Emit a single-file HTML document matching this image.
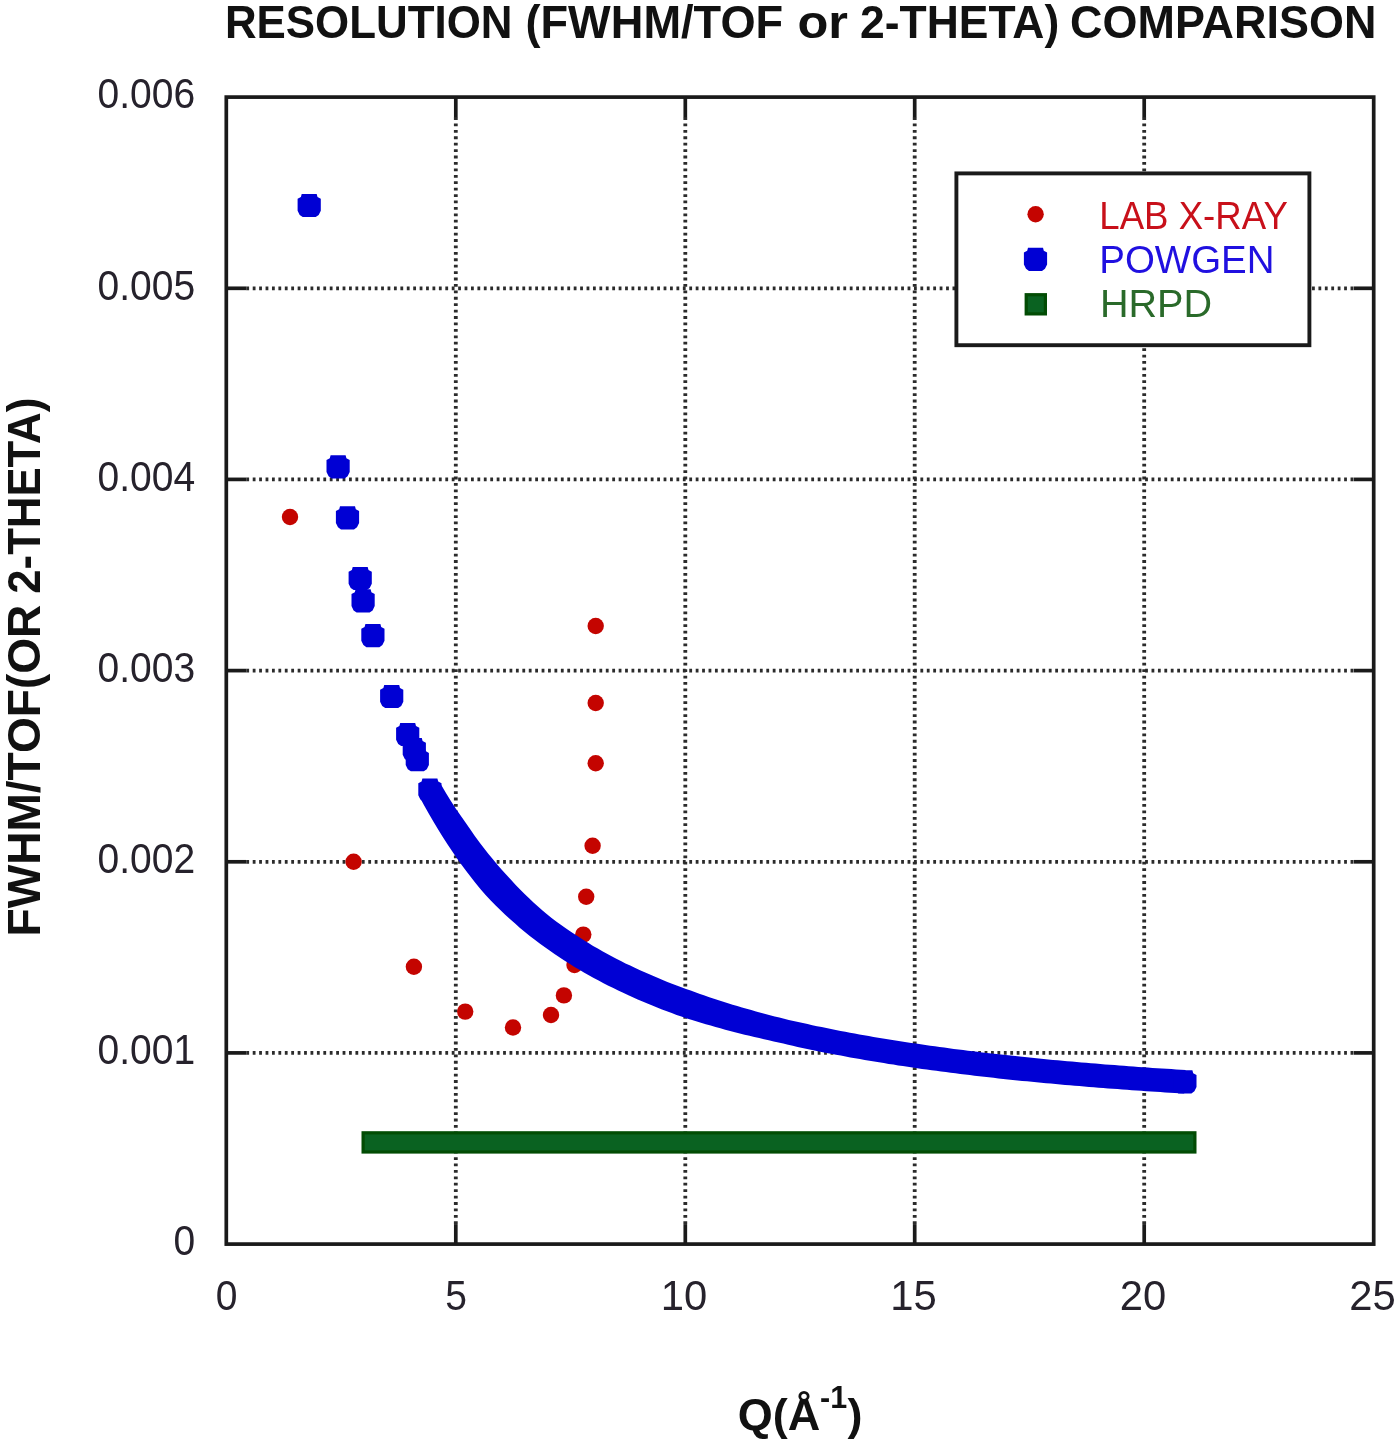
<!DOCTYPE html>
<html><head><meta charset="utf-8"><title>Resolution comparison</title>
<style>
html,body{margin:0;padding:0;background:#fff}
svg{display:block}
text{font-family:"Liberation Sans",sans-serif}
.b{font-weight:bold;fill:#111}
.t{fill:#26222c}
</style></head><body>
<svg xmlns="http://www.w3.org/2000/svg" width="1400" height="1447" viewBox="0 0 1400 1447" style="filter:blur(0.5px)">
<rect width="1400" height="1447" fill="#fff"/>

<g stroke="#2b2b2b" stroke-width="3.8" stroke-dasharray="2.8 3.62" fill="none" style="filter:blur(0.45px)">
<line x1="455.8" y1="117.1" x2="455.8" y2="1224.1"/>
<line x1="685.3" y1="117.1" x2="685.3" y2="1224.1"/>
<line x1="914.7" y1="117.1" x2="914.7" y2="1224.1"/>
<line x1="1144.2" y1="117.1" x2="1144.2" y2="1224.1"/>
<line x1="246.3" y1="1052.9" x2="1353.7" y2="1052.9"/>
<line x1="246.3" y1="861.8" x2="1353.7" y2="861.8"/>
<line x1="246.3" y1="670.6" x2="1353.7" y2="670.6"/>
<line x1="246.3" y1="479.4" x2="1353.7" y2="479.4"/>
<line x1="246.3" y1="288.3" x2="1353.7" y2="288.3"/>
</g>
<g stroke="#1a1a1a" stroke-width="3.7" fill="none">
<line x1="455.8" y1="97.1" x2="455.8" y2="117.1"/>
<line x1="455.8" y1="1244.1" x2="455.8" y2="1224.1"/>
<line x1="685.3" y1="97.1" x2="685.3" y2="117.1"/>
<line x1="685.3" y1="1244.1" x2="685.3" y2="1224.1"/>
<line x1="914.7" y1="97.1" x2="914.7" y2="117.1"/>
<line x1="914.7" y1="1244.1" x2="914.7" y2="1224.1"/>
<line x1="1144.2" y1="97.1" x2="1144.2" y2="117.1"/>
<line x1="1144.2" y1="1244.1" x2="1144.2" y2="1224.1"/>
<line x1="226.3" y1="1052.9" x2="246.3" y2="1052.9"/>
<line x1="1373.7" y1="1052.9" x2="1353.7" y2="1052.9"/>
<line x1="226.3" y1="861.8" x2="246.3" y2="861.8"/>
<line x1="1373.7" y1="861.8" x2="1353.7" y2="861.8"/>
<line x1="226.3" y1="670.6" x2="246.3" y2="670.6"/>
<line x1="1373.7" y1="670.6" x2="1353.7" y2="670.6"/>
<line x1="226.3" y1="479.4" x2="246.3" y2="479.4"/>
<line x1="1373.7" y1="479.4" x2="1353.7" y2="479.4"/>
<line x1="226.3" y1="288.3" x2="246.3" y2="288.3"/>
<line x1="1373.7" y1="288.3" x2="1353.7" y2="288.3"/>
</g>
<g fill="#c40400">
<circle cx="290.0" cy="517.0" r="8.2"/>
<circle cx="595.7" cy="626.0" r="8.2"/>
<circle cx="595.7" cy="703.0" r="8.2"/>
<circle cx="595.7" cy="763.2" r="8.2"/>
<circle cx="592.6" cy="845.8" r="8.2"/>
<circle cx="586.2" cy="896.8" r="8.2"/>
<circle cx="583.3" cy="934.6" r="8.2"/>
<circle cx="574.5" cy="965.0" r="8.2"/>
<circle cx="563.9" cy="995.4" r="8.2"/>
<circle cx="551.0" cy="1015.0" r="8.2"/>
<circle cx="513.0" cy="1027.5" r="8.2"/>
<circle cx="465.2" cy="1011.6" r="8.2"/>
<circle cx="413.9" cy="966.8" r="8.2"/>
<circle cx="353.6" cy="861.8" r="8.2"/>
</g>
<rect x="361.5" y="1131.2" width="835" height="22.4" fill="#024c04"/><rect x="364.7" y="1134.4" width="828.6" height="16" fill="#0a6221"/>
<g fill="#0000d4">
<polygon points="301.7,193.9 316.7,193.9 317.5,196.9 320.8,198.7 320.8,210.7 318.7,215.0 315.7,217.1 302.7,217.1 299.7,215.0 297.6,210.7 297.6,198.7 300.9,196.9"/>
<polygon points="330.6,455.2 345.6,455.2 346.4,458.2 349.7,460.0 349.7,472.0 347.6,476.3 344.6,478.4 331.6,478.4 328.6,476.3 326.5,472.0 326.5,460.0 329.8,458.2"/>
<polygon points="340.0,506.2 355.0,506.2 355.8,509.2 359.1,511.0 359.1,523.0 357.0,527.3 354.0,529.4 341.0,529.4 338.0,527.3 335.9,523.0 335.9,511.0 339.2,509.2"/>
<polygon points="352.7,566.9 367.7,566.9 368.5,569.9 371.8,571.7 371.8,583.7 369.7,588.0 366.7,590.1 353.7,590.1 350.7,588.0 348.6,583.7 348.6,571.7 351.9,569.9"/>
<polygon points="355.6,589.3 370.6,589.3 371.4,592.3 374.7,594.1 374.7,606.1 372.6,610.4 369.6,612.5 356.6,612.5 353.6,610.4 351.5,606.1 351.5,594.1 354.8,592.3"/>
<polygon points="365.4,624.0 380.4,624.0 381.2,627.0 384.5,628.8 384.5,640.8 382.4,645.1 379.4,647.2 366.4,647.2 363.4,645.1 361.3,640.8 361.3,628.8 364.6,627.0"/>
<polygon points="384.2,684.9 399.2,684.9 400.0,687.9 403.3,689.7 403.3,701.7 401.2,706.0 398.2,708.1 385.2,708.1 382.2,706.0 380.1,701.7 380.1,689.7 383.4,687.9"/>
<polygon points="400.2,722.9 415.2,722.9 416.0,725.9 419.3,727.7 419.3,739.7 417.2,744.0 414.2,746.1 401.2,746.1 398.2,744.0 396.1,739.7 396.1,727.7 399.4,725.9"/>
<polygon points="406.8,737.9 421.8,737.9 422.6,740.9 425.9,742.7 425.9,754.7 423.8,759.0 420.8,761.1 407.8,761.1 404.8,759.0 402.7,754.7 402.7,742.7 406.0,740.9"/>
<polygon points="409.8,748.1 424.8,748.1 425.6,751.1 428.9,752.9 428.9,764.9 426.8,769.2 423.8,771.3 410.8,771.3 407.8,769.2 405.7,764.9 405.7,752.9 409.0,751.1"/>
</g>
<polygon points="440.8,784.3 445.8,792.8 450.7,800.8 455.7,808.4 460.6,815.6 465.5,822.6 470.2,829.3 474.8,835.9 479.4,842.2 484.0,848.2 488.5,854.0 493.1,859.6 497.6,865.0 502.2,870.2 506.8,875.2 511.2,880.1 515.7,884.9 520.1,889.5 524.6,893.9 529.1,898.3 533.5,902.5 538.0,906.6 542.5,910.5 547.0,914.3 551.6,917.9 556.2,921.4 560.8,924.8 565.4,928.1 570.1,931.2 574.7,934.3 579.3,937.3 583.9,940.3 588.5,943.1 593.1,945.9 597.8,948.6 602.4,951.2 607.0,953.8 611.6,956.3 616.3,958.7 620.9,961.1 625.5,963.4 630.2,965.6 634.8,967.8 639.5,970.0 644.1,972.1 648.8,974.1 653.4,976.1 658.1,978.1 662.7,980.0 667.4,981.9 672.0,983.7 676.7,985.5 681.4,987.2 686.0,989.0 690.7,990.6 695.3,992.3 700.0,994.0 704.6,995.6 709.3,997.2 714.0,998.7 718.6,1000.3 723.3,1001.8 728.0,1003.2 732.6,1004.7 737.3,1006.1 742.0,1007.4 746.6,1008.8 751.3,1010.1 756.0,1011.4 760.7,1012.7 765.4,1014.0 770.0,1015.2 774.7,1016.4 779.4,1017.6 784.1,1018.8 788.8,1019.9 793.5,1021.0 798.2,1022.0 802.9,1023.1 807.6,1024.1 812.3,1025.2 817.0,1026.2 821.7,1027.1 826.4,1028.1 831.1,1029.0 835.8,1030.0 840.6,1030.9 845.3,1031.8 850.0,1032.7 854.7,1033.5 859.4,1034.4 864.1,1035.2 868.8,1036.1 873.5,1036.9 878.2,1037.7 883.0,1038.5 887.7,1039.2 892.4,1040.0 897.1,1040.8 901.8,1041.5 906.5,1042.2 911.3,1042.9 916.0,1043.6 920.7,1044.3 925.4,1045.0 930.2,1045.7 934.9,1046.3 939.6,1047.0 944.3,1047.6 949.0,1048.2 953.8,1048.9 958.5,1049.5 963.2,1050.1 967.9,1050.7 972.7,1051.2 977.4,1051.8 982.1,1052.4 986.8,1052.9 991.6,1053.5 996.3,1054.0 1001.0,1054.5 1005.8,1055.1 1010.5,1055.6 1015.2,1056.1 1019.9,1056.6 1024.7,1057.1 1029.4,1057.5 1034.1,1058.0 1038.9,1058.5 1043.6,1059.0 1048.3,1059.4 1053.0,1059.9 1057.8,1060.3 1062.5,1060.7 1067.2,1061.2 1072.0,1061.6 1076.7,1062.0 1081.4,1062.4 1086.2,1062.8 1090.9,1063.2 1095.6,1063.6 1100.4,1064.0 1105.1,1064.4 1109.8,1064.7 1114.6,1065.1 1119.3,1065.5 1124.0,1065.8 1128.8,1066.2 1133.5,1066.5 1138.3,1066.9 1143.0,1067.2 1147.7,1067.5 1152.5,1067.9 1157.2,1068.2 1161.9,1068.5 1166.7,1068.8 1171.4,1069.1 1176.1,1069.4 1180.9,1069.7 1185.6,1070.0 1184.2,1093.6 1179.4,1093.3 1174.7,1093.0 1169.9,1092.7 1165.1,1092.4 1160.4,1092.1 1155.6,1091.8 1150.9,1091.5 1146.1,1091.2 1141.3,1090.8 1136.6,1090.5 1131.8,1090.2 1127.1,1089.8 1122.3,1089.5 1117.5,1089.1 1112.8,1088.8 1108.0,1088.4 1103.2,1088.1 1098.5,1087.7 1093.7,1087.3 1089.0,1086.9 1084.2,1086.5 1079.4,1086.1 1074.7,1085.7 1069.9,1085.3 1065.1,1084.9 1060.4,1084.5 1055.6,1084.1 1050.8,1083.6 1046.1,1083.2 1041.3,1082.7 1036.5,1082.3 1031.8,1081.8 1027.0,1081.3 1022.2,1080.9 1017.5,1080.4 1012.7,1079.9 1007.9,1079.4 1003.2,1078.9 998.4,1078.4 993.6,1077.8 988.9,1077.3 984.1,1076.8 979.3,1076.2 974.5,1075.7 969.8,1075.1 965.0,1074.5 960.2,1073.9 955.5,1073.3 950.7,1072.7 945.9,1072.1 941.1,1071.5 936.4,1070.8 931.6,1070.2 926.8,1069.5 922.0,1068.9 917.3,1068.2 912.5,1067.5 907.7,1066.8 902.9,1066.1 898.2,1065.4 893.4,1064.6 888.6,1063.9 883.8,1063.1 879.0,1062.3 874.3,1061.6 869.5,1060.8 864.7,1059.9 859.9,1059.1 855.1,1058.3 850.3,1057.4 845.6,1056.5 840.8,1055.6 836.0,1054.7 831.2,1053.8 826.4,1052.9 821.6,1051.9 816.8,1051.0 812.0,1050.0 807.2,1049.0 802.4,1047.9 797.6,1046.9 792.8,1045.8 788.1,1044.7 783.3,1043.6 778.5,1042.5 773.7,1041.4 768.8,1040.3 764.0,1039.2 759.2,1038.1 754.3,1037.0 749.5,1035.8 744.6,1034.7 739.8,1033.4 734.9,1032.2 730.1,1031.0 725.2,1029.7 720.4,1028.3 715.5,1027.0 710.7,1025.6 705.8,1024.2 700.9,1022.7 696.1,1021.3 691.2,1019.7 686.3,1018.2 681.4,1016.6 676.6,1014.9 671.7,1013.1 666.9,1011.3 662.0,1009.4 657.1,1007.5 652.3,1005.6 647.4,1003.6 642.6,1001.5 637.7,999.4 632.8,997.3 627.9,995.1 623.1,992.8 618.2,990.5 613.3,988.1 608.4,985.7 603.5,983.2 598.6,980.6 593.7,978.0 588.8,975.3 583.9,972.5 579.0,969.6 574.1,966.7 569.2,963.6 564.3,960.5 559.4,957.3 554.5,954.0 549.6,950.6 544.6,947.1 539.7,943.5 534.8,939.8 529.8,935.9 524.9,932.0 520.0,927.9 515.1,923.6 510.2,919.2 505.2,914.7 500.3,910.0 495.4,905.2 490.5,900.2 485.6,894.9 480.8,889.4 476.1,883.7 471.4,877.8 466.6,871.6 461.9,865.3 457.2,858.7 452.5,851.8 447.8,844.7 443.1,837.4 438.3,829.8 433.5,821.8 428.7,813.5 423.9,804.9 419.1,796.0" fill="#0000d4"/>
<g fill="#0000d4"><polygon points="422.4,778.5 437.4,778.5 438.2,781.5 441.5,783.3 441.5,795.3 439.4,799.6 436.4,801.7 423.4,801.7 420.4,799.6 418.3,795.3 418.3,783.3 421.6,781.5"/><polygon points="1177.4,1070.2 1192.4,1070.2 1193.2,1073.2 1196.5,1075.0 1196.5,1087.0 1194.4,1091.3 1191.4,1093.4 1178.4,1093.4 1175.4,1091.3 1173.3,1087.0 1173.3,1075.0 1176.6,1073.2"/></g>
<rect x="226.3" y="97.1" width="1147.4" height="1147.0" fill="none" stroke="#1a1a1a" stroke-width="3.7"/>
<rect x="956.4" y="173.4" width="353" height="171.8" fill="#fff" stroke="#1a1a1a" stroke-width="3.9"/>
<circle cx="1035.6" cy="214.3" r="8.2" fill="#c40400"/>
<g fill="#0000d4"><polygon points="1028.0,247.7 1043.0,247.7 1043.8,250.7 1047.1,252.5 1047.1,264.5 1045.0,268.8 1042.0,270.9 1029.0,270.9 1026.0,268.8 1023.9,264.5 1023.9,252.5 1027.2,250.7"/></g>
<rect x="1024.6" y="293.1" width="22.4" height="22.4" fill="#024c04"/><rect x="1027.8" y="296.3" width="16" height="16" fill="#0a6221"/>
<text x="1099.3" y="228.8" font-size="39.5" fill="#c8101a" textLength="188.5" lengthAdjust="spacingAndGlyphs">LAB X-RAY</text>
<text x="1099.3" y="272.6" font-size="39.5" fill="#2010e0" textLength="175.2" lengthAdjust="spacingAndGlyphs">POWGEN</text>
<text x="1099.9" y="317.4" font-size="39.5" fill="#2a6a2a" textLength="112.2" lengthAdjust="spacingAndGlyphs">HRPD</text>
<text class="t" x="195.2" y="1255.3" font-size="42.5" text-anchor="end" textLength="21.7" lengthAdjust="spacingAndGlyphs">0</text>
<text class="t" x="195.2" y="1064.1" font-size="42.5" text-anchor="end" textLength="97.6" lengthAdjust="spacingAndGlyphs">0.001</text>
<text class="t" x="195.2" y="873.0" font-size="42.5" text-anchor="end" textLength="97.6" lengthAdjust="spacingAndGlyphs">0.002</text>
<text class="t" x="195.2" y="681.8" font-size="42.5" text-anchor="end" textLength="97.6" lengthAdjust="spacingAndGlyphs">0.003</text>
<text class="t" x="195.2" y="490.6" font-size="42.5" text-anchor="end" textLength="97.6" lengthAdjust="spacingAndGlyphs">0.004</text>
<text class="t" x="195.2" y="299.5" font-size="42.5" text-anchor="end" textLength="97.6" lengthAdjust="spacingAndGlyphs">0.005</text>
<text class="t" x="195.2" y="108.3" font-size="42.5" text-anchor="end" textLength="97.6" lengthAdjust="spacingAndGlyphs">0.006</text>
<text class="t" x="226.6" y="1309.8" font-size="42.5" text-anchor="middle" textLength="21.7" lengthAdjust="spacingAndGlyphs">0</text>
<text class="t" x="456.1" y="1309.8" font-size="42.5" text-anchor="middle" textLength="21.7" lengthAdjust="spacingAndGlyphs">5</text>
<text class="t" x="684.1" y="1309.8" font-size="42.5" text-anchor="middle" textLength="46.5" lengthAdjust="spacingAndGlyphs">10</text>
<text class="t" x="913.5" y="1309.8" font-size="42.5" text-anchor="middle" textLength="46.5" lengthAdjust="spacingAndGlyphs">15</text>
<text class="t" x="1143.0" y="1309.8" font-size="42.5" text-anchor="middle" textLength="46.5" lengthAdjust="spacingAndGlyphs">20</text>
<text class="t" x="1372.5" y="1309.8" font-size="42.5" text-anchor="middle" textLength="46.5" lengthAdjust="spacingAndGlyphs">25</text>
<text y="37.8" font-size="45.5" font-weight="bold" fill="#111"><tspan x="224.9" textLength="287.6" lengthAdjust="spacingAndGlyphs">RESOLUTION</tspan> <tspan x="525.4" textLength="257.8" lengthAdjust="spacingAndGlyphs">(FWHM/TOF</tspan> <tspan x="797.5" textLength="50.5" lengthAdjust="spacingAndGlyphs">or</tspan> <tspan x="860.0" textLength="199.2" lengthAdjust="spacingAndGlyphs">2-THETA)</tspan> <tspan x="1070.1" textLength="306.3" lengthAdjust="spacingAndGlyphs">COMPARISON</tspan></text>
<text transform="translate(39.5,933.5) rotate(-90)" y="0" font-size="45.5" font-weight="bold" fill="#111"><tspan x="-3.0" textLength="331.9" lengthAdjust="spacingAndGlyphs">FWHM/TOF(OR</tspan> <tspan x="339.8" textLength="195.9" lengthAdjust="spacingAndGlyphs">2-THETA)</tspan></text>
<text class="b" y="1429.6" font-size="45"><tspan x="737.8">Q(Å</tspan><tspan x="820" dy="-21.5" font-size="30.5">-1</tspan><tspan x="847.6" dy="21.5">)</tspan></text>
</svg></body></html>
